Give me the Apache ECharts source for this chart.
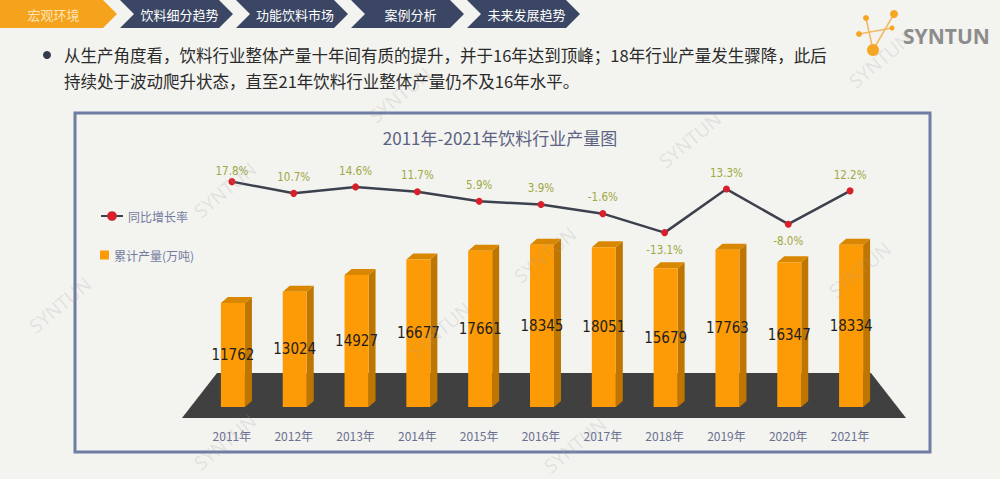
<!DOCTYPE html>
<html>
<head>
<meta charset="utf-8">
<script src="https://cdn.jsdelivr.net/npm/echarts@6/dist/echarts.min.js"></script>
<style>
html, body { margin: 0; padding: 0; background: #f3f3ef; }
#main { width: 1000px; height: 479px; }
</style>
</head>
<body>
<div id="main"></div>
<script>
// data
var years = ['2011年', '2012年', '2013年', '2014年', '2015年', '2016年', '2017年', '2018年', '2019年', '2020年', '2021年'];
var output = [11762, 13024, 14927, 16677, 17661, 18345, 18051, 15679, 17763, 16347, 18334];
var growth = [17.8, 10.7, 14.6, 11.7, 5.9, 3.9, -1.6, -13.1, 13.3, -8.0, 12.2];
var tabNames = ['宏观环境', '饮料细分趋势', '功能饮料市场', '案例分析', '未来发展趋势'];

var narrow = '"Liberation Sans Narrow", "DejaVu Sans Condensed", "Noto Sans CJK SC", sans-serif';
var cjk = '"Noto Sans CJK SC", "Noto Sans", sans-serif';

var myChart = echarts.init(document.getElementById('main'), null, { renderer: 'svg' });

/*--- 3d bar ---*/
function renderBar(params, api) {
	var base = api.coord([api.value(0), 0]);
	var top = api.coord([api.value(0), api.value(1)]);
	var w = 24, dx = 7, dy = 6;
	var x0 = top[0] - w / 2 + 1, x1 = x0 + w;
	return {
		type: 'group',
		children: [{
			type: 'polygon',
			shape: { points: [[x1, top[1]], [x1 + dx, top[1] - dy], [x1 + dx, base[1] - dy], [x1, base[1]]] },
			style: { fill: '#bf7600' }
		}, {
			type: 'polygon',
			shape: { points: [[x0, top[1]], [x0 + dx, top[1] - dy], [x1 + dx, top[1] - dy], [x1, top[1]]] },
			style: { fill: '#d98700' }
		}, {
			type: 'rect',
			shape: { x: x0, y: top[1], width: w, height: base[1] - top[1] },
			style: { fill: '#fd9b06' }
		}, {
			type: 'text',
			style: {
				text: String(api.value(1)),
				x: x0 + w / 2,
				y: (top[1] + base[1]) / 2,
				align: 'center',
				verticalAlign: 'middle',
				fill: '#1e1e1e',
				font: '15px ' + narrow
			}
		}]
	};
}

/*--- slide decorations ---*/
var graphics = [];

// tabs
var tabEdges = [0, 117, 233, 348, 464, 580];
for (var i = 0; i < tabNames.length; i++) {
	var L = tabEdges[i] + (i ? 3 : 0), R = tabEdges[i + 1], d = 14, h = 28;
	var pts = i ? [[L, 0], [R - d, 0], [R, h / 2], [R - d, h], [L, h], [L + d, h / 2]]
		: [[L, 0], [R - d, 0], [R, h / 2], [R - d, h], [L, h]];
	graphics.push({
		type: 'polygon', z: -10,
		shape: { points: pts },
		style: { fill: i ? '#3a4663' : '#f5a21c' }
	});
	graphics.push({
		type: 'text', z: -9,
		x: (L + R) / 2 + (i ? 3 : -5), y: h / 2,
		style: {
			text: tabNames[i], align: 'center', verticalAlign: 'middle',
			fill: i ? '#ffffff' : '#fde3b8', font: '13px ' + cjk
		}
	});
}

// logo
var logoLines = [[[866, 18], [873, 50]], [[894, 14], [873, 50]], [[859, 34], [892, 28]]];
logoLines.forEach(function (l) {
	graphics.push({
		type: 'line', z: -10,
		shape: { x1: l[0][0], y1: l[0][1], x2: l[1][0], y2: l[1][1] },
		style: { stroke: '#f3b861', lineWidth: 1.5 }
	});
});
[[866, 18, 3], [894, 14, 4], [859, 34, 3], [873, 50, 6], [892, 28, 2.5]].forEach(function (c) {
	graphics.push({
		type: 'circle', z: -9,
		shape: { cx: c[0], cy: c[1], r: c[2] },
		style: { fill: '#f6a623' }
	});
});
graphics.push({
	type: 'text', z: -9, x: 903, y: 36,
	style: { text: 'SYNTUN', verticalAlign: 'middle', fill: '#8c8c8c', font: 'bold 21px "Open Sans", sans-serif' }
});

// bullet text
graphics.push({
	type: 'circle', z: -9, shape: { cx: 47, cy: 55, r: 4 }, style: { fill: '#333a4a' }
});
graphics.push({
	type: 'text', z: -9, x: 64, y: 55,
	style: {
		text: '从生产角度看，饮料行业整体产量十年间有质的提升，并于16年达到顶峰；18年行业产量发生骤降，此后',
		verticalAlign: 'middle', fill: '#2a2a2a', font: '16.5px ' + cjk
	}
});
graphics.push({
	type: 'text', z: -9, x: 64, y: 81,
	style: {
		text: '持续处于波动爬升状态，直至21年饮料行业整体产量仍不及16年水平。',
		verticalAlign: 'middle', fill: '#2a2a2a', font: '16.5px ' + cjk
	}
});

// frame
graphics.push({
	type: 'rect', z: -10,
	shape: { x: 75, y: 113, width: 855, height: 339 },
	style: { fill: 'none', stroke: '#6f7ca3', lineWidth: 3 }
});

// floor
graphics.push({
	type: 'polygon', z: -10,
	shape: { points: [[217, 373], [871, 373], [906, 418], [182, 418]] },
	style: { fill: '#404040' }
});

// watermarks
[[60, 305], [225, 190], [400, 95], [690, 140], [545, 255], [440, 330], [860, 270], [225, 442], [575, 445], [880, 60]].forEach(function (p) {
	graphics.push({
		type: 'text', z: 50, x: p[0], y: p[1], rotation: Math.PI / 4.5,
		style: {
			text: 'SYNTUN', align: 'center', verticalAlign: 'middle',
			fill: 'rgba(160,160,160,0.22)', font: '19px "Open Sans", sans-serif'
		}
	});
});

var option = {
	backgroundColor: '#f3f3ef',
	animation: false,
	title: {
		text: '2011年-2021年饮料行业产量图',
		left: 'center',
		top: 124,
		textStyle: { color: '#5b6283', fontSize: 17, fontWeight: 'normal', fontFamily: cjk }
	},
	legend: [{
		orient: 'vertical',
		left: 95,
		top: 205,
		itemWidth: 22,
		itemHeight: 12,
		textStyle: { color: '#747aa0', fontSize: 12, fontFamily: cjk },
		data: ['同比增长率']
	}, {
		orient: 'vertical',
		left: 95,
		top: 244,
		itemWidth: 9,
		itemHeight: 9,
		itemGap: 5,
		textStyle: { color: '#747aa0', fontSize: 12, fontFamily: cjk },
		data: [{ name: '累计产量(万吨)', icon: 'rect' }]
	}],
	grid: [
		{ left: 201, right: 119, top: 230, height: 177 },
		{ left: 201, right: 119, top: 178, height: 66 }
	],
	xAxis: [{
		type: 'category',
		gridIndex: 0,
		data: years,
		axisLine: { show: false },
		axisTick: { show: false },
		axisLabel: { color: '#6a7092', fontSize: 12, margin: 22, fontFamily: cjk }
	}, {
		type: 'category',
		gridIndex: 1,
		data: years,
		show: false
	}],
	yAxis: [{
		type: 'value', gridIndex: 0, min: 0, max: 20000, show: false
	}, {
		type: 'value', gridIndex: 1, min: -20, max: 20, show: false
	}],
	series: [{
		name: '累计产量(万吨)',
		type: 'custom',
		xAxisIndex: 0,
		yAxisIndex: 0,
		z: 10,
		clip: false,
		itemStyle: { color: '#fd9b06' },
		renderItem: renderBar,
		encode: { x: 0, y: 1 },
		data: output.map(function (v, i) { return [i, v]; })
	}, {
		name: '同比增长率',
		type: 'line',
		xAxisIndex: 1,
		yAxisIndex: 1,
		z: 12,
		symbol: 'circle',
		symbolSize: 7,
		lineStyle: { color: '#3d414e', width: 2.5 },
		itemStyle: { color: '#d8202a' },
		label: {
			show: true,
			position: 'top',
			distance: 7,
			color: '#9fa843',
			fontSize: 11.5,
			fontFamily: narrow,
			formatter: function (p) { return p.value.toFixed(1) + '%'; }
		},
		data: growth.map(function (v, i) {
			if (i === 7 || i === 9) {
				return { value: v, label: { position: 'bottom', distance: 8 } };
			}
			if (i === 0) {
				return { value: v, label: { distance: 1 } };
			}
			return v;
		})
	}],
	graphic: { elements: graphics }
};
myChart.setOption(option);
</script>
</body>
</html>
